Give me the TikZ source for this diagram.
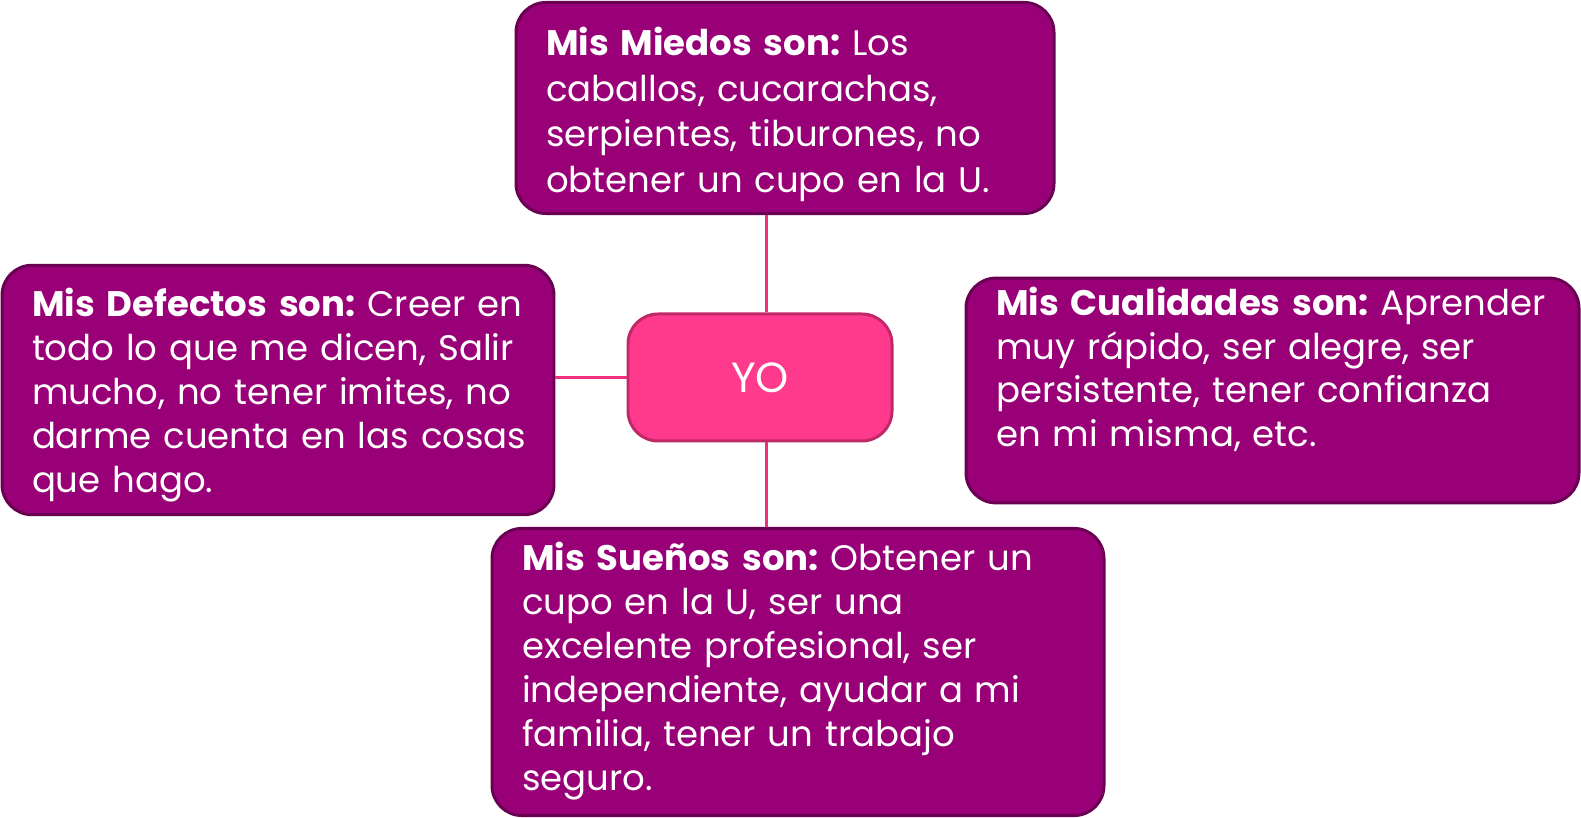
\documentclass[tikz,border=0pt]{standalone}
\usepackage{fontspec}
\setmainfont{Poppins}
\usetikzlibrary{positioning}
\definecolor{bubblefill}{HTML}{990077}
\definecolor{bubbleedge}{HTML}{6A0052}
\definecolor{yofill}{HTML}{FF3A8C}
\definecolor{yoedge}{HTML}{C02868}
\definecolor{linkpink}{HTML}{F0307F}
\newcommand{\topgap}[1]{\rule{0pt}{#1}}
\newcommand{\botgap}[1]{\rule[-#1]{0pt}{0pt}}
\frenchspacing

\begin{document}
\begin{tikzpicture}[
	bubble/.style={draw=bubbleedge, fill=bubblefill, line width=0.85pt, rounded corners=0.3cm,
		text=white, align=left, inner xsep=0.3cm, inner ysep=0pt,
		font=\fontsize{10.1}{12.5}\selectfont},
	link/.style={draw=linkpink, line width=0.6pt}]
			%%%%% START %%%%%
			
			\useasboundingbox (0, 0) rectangle (15.81, -8.18);
			\coordinate (axis) at (7.665, 0);
			
			\node[draw=yoedge, fill=yofill, line width=0.85pt, rounded corners=0.3cm, text=white,
				minimum width=2.64cm, minimum height=1.27cm, font=\fontsize{12}{14}\selectfont] (yo) at (7.60, -3.775) {YO};
			
			\node[bubble, text width=4.78cm, font=\fontsize{10.1}{13}\selectfont] (miedos) at (7.85, -1.08)
				{\topgap{0.53cm}\textbf{Mis Miedos son:} Los\\ caballos, cucarachas,\\ serpientes, tiburones, no\\ obtener un cupo en la U.\botgap{0.21cm}};
			
			\node[bubble, text width=4.92cm] (defectos) at (2.78, -3.90)
				{\topgap{0.517cm}\textbf{Mis Defectos son:} Creer en\\ todo lo que me dicen, Salir\\ mucho, no tener imites, no\\ \mbox{darme cuenta en las cosas}\\ que hago.\botgap{0.22cm}};
			
			\node[bubble, text width=5.53cm] (cualidades) at (12.725, -3.905)
				{\topgap{0.37cm}\textbf{Mis Cualidades son:} Aprender\\ muy rápido, ser alegre, ser\\ persistente, tener confianza\\ en mi misma, etc.\botgap{0.56cm}};
			
			\node[bubble, text width=5.52cm] (suenos) at (7.98, -6.72)
				{\topgap{0.42cm}\textbf{Mis Sueños son:} Obtener un\\ cupo en la U, ser una\\ excelente profesional, ser\\ independiente, ayudar a mi\\ familia, tener un trabajo\\ seguro.\botgap{0.255cm}};
			
			\draw[link] (miedos.south -| axis) -- (yo.north -| axis);
			\draw[link] (defectos.east |- yo.west) -- (yo.west);
			\draw[link] (yo.south -| axis) -- (suenos.north -| axis);
			
			%%%%% END %%%%%
		\end{tikzpicture}
\end{document}
